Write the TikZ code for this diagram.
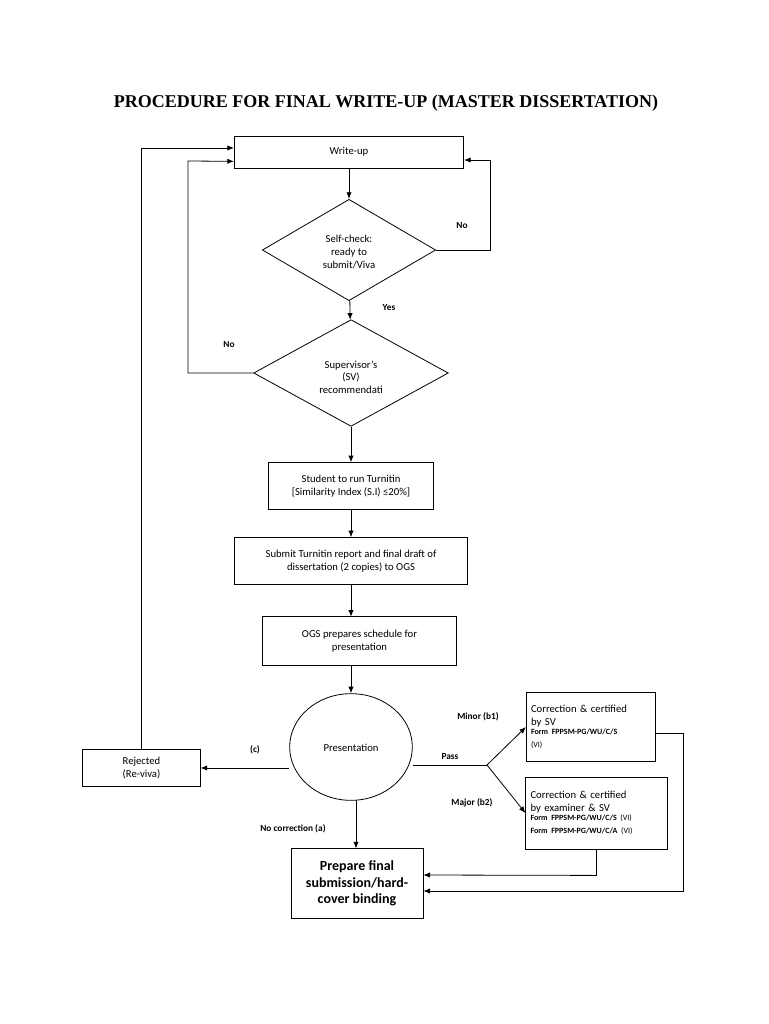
\documentclass[tikz,border=0pt]{standalone}
\usepackage{fontspec}
\setmainfont{Carlito}
\newfontfamily\titlefont{Liberation Serif}
\usetikzlibrary{shapes.geometric,arrows.meta}
\begin{document}
\begin{tikzpicture}[x=0.75pt,y=-0.75pt,semithick,
    every node/.style={font=\fontsize{8}{9.5}\selectfont},
    box/.style={draw, inner sep=0pt, align=center},
    lbl/.style={font=\fontsize{7}{8}\selectfont\bfseries},
    arr/.style={-{Latex[length=5pt,width=4pt]}}]
  \useasboundingbox[fill=white] (0,0) rectangle (768,1024);
  \node (title) at (386,103) {\titlefont\bfseries\fontsize{13.5}{16}\selectfont PROCEDURE FOR FINAL WRITE-UP (MASTER DISSERTATION)};
  % main column
  \node (write) at (349,152) [box, minimum width=172pt, minimum height=24pt] {Write-up};
  \node (self) at (349,250) [draw, diamond, aspect=1.72, minimum width=130pt, minimum height=76pt, inner sep=0pt] {};
  \node at (349,252) [align=center] {Self-check:\\ready to\\submit/Viva};
  \node (sv) at (351,373) [draw, diamond, aspect=1.84, minimum width=146pt, minimum height=80pt, inner sep=0pt] {};
  \node at (351,377) [align=center] {Supervisor's\\(SV)\\recommendati};
  \node (turn) at (351,486) [box, minimum width=124pt, minimum height=35pt] {Student to run Turnitin\\{}[Similarity Index (S.I) ≤20\%]};
  \node (submit) at (351,561) [box, minimum width=175pt, minimum height=35pt] {Submit Turnitin report and final draft of\\dissertation (2 copies) to OGS};
  \node (ogs) at (359.5,641) [box, minimum width=146pt, minimum height=37pt] {OGS prepares schedule for\\presentation};
  \node (pres) at (351,747) [draw, ellipse, minimum width=92pt, minimum height=80pt] {};
  \node at (351,748) {Presentation};
  \node (rej) at (141.5,768) [box, minimum width=88pt, minimum height=28pt] {Rejected\\(Re-viva)};
  \node (minor) at (591,727) [box, minimum width=97pt, minimum height=52pt, align=left, text width=90pt] {Correction \& certified\\by SV\\{\fontsize{6}{7}\selectfont\textbf{Form FPPSM-PG/WU/C/S}\\(VI)}};
  \node (major) at (596.5,813) [box, minimum width=106pt, minimum height=54pt, align=left, text width=99pt] {Correction \& certified\\by examiner \& SV\\{\fontsize{6}{7}\selectfont\textbf{Form FPPSM-PG/WU/C/S} (VI)\\\textbf{Form FPPSM-PG/WU/C/A} (VI)}};
  \node (final) at (357,883.5) [box, minimum width=99pt, minimum height=52pt, font=\fontsize{10.5}{12.5}\selectfont\bfseries] {Prepare final\\submission/hard-\\cover binding};
  \coordinate (fork) at (487,765);
  % connectors
  \draw[arr] (write) -- (self);
  \draw[arr] (self) -- (sv);
  \draw[arr] (sv) -- (turn);
  \draw[arr] (turn) -- (submit);
  \draw[arr] (submit.south) -- ++(0,32);
  \draw[arr] (351,666) -- (pres.north);
  \draw[arr] (self.east) -- ++(54,0) |- ([yshift=-6pt]write.east);
  \draw[arr] (sv.west) -| (188,161) -- ([yshift=-7pt]write.west);
  \draw[arr] (rej.north) |- ([yshift=3pt]write.west);
  \draw[arr] (pres.west |- rej) -- (rej.east);
  \draw (pres.east |- fork) -- (fork);
  \draw[arr] (fork) -- (minor.west);
  \draw[arr] (fork) -- (major.west);
  \draw[arr] (356,800) -- (final.north -| 356,0);
  \draw[arr] (major.south) -- ++(0,26) -- (final.east |- 0,875);
  \draw[arr] ([yshift=-5pt]minor.east) -- ++(27,0) |- (final.east |- 0,891);
  % labels
  \node[lbl] at (462,226) {No};
  \node[lbl] at (389,308) {Yes};
  \node[lbl] at (229,345) {No};
  \node[lbl] at (255,750) {(c)};
  \node[lbl] at (450,756) {Pass};
  \node[lbl] at (478,717) {Minor (b1)};
  \node[lbl] at (472,803) {Major (b2)};
  \node[lbl] at (293,829) {No correction (a)};
\end{tikzpicture}
\end{document}
